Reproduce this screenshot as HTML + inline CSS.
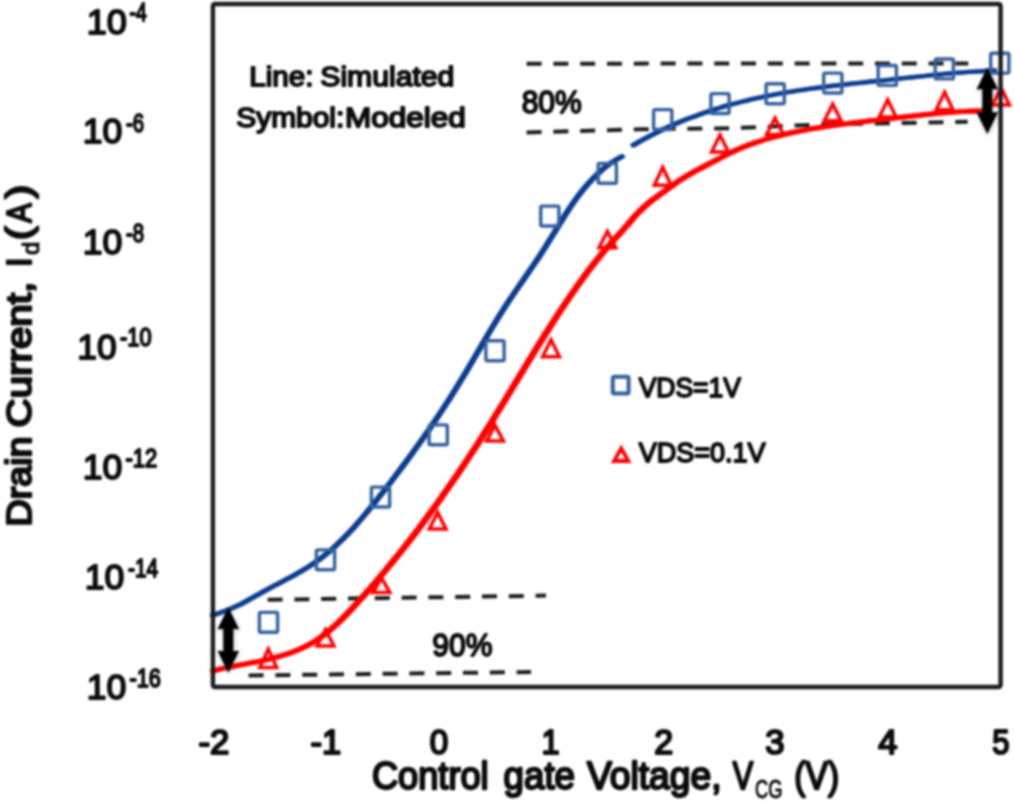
<!DOCTYPE html>
<html lang="en"><head><meta charset="utf-8"><title>Drain Current vs Control gate Voltage</title>
<style>html,body{margin:0;padding:0;background:#fff}body{width:1014px;height:801px;overflow:hidden}svg{display:block;filter:blur(0.85px)}
text{font-family:"Liberation Sans",Arial,sans-serif;font-weight:normal;fill:#0c0c0c;stroke:#0c0c0c;stroke-width:1.8px;stroke-linejoin:round;paint-order:stroke}
</style></head><body>
<svg width="1014" height="801" viewBox="0 0 1014 801">
<rect width="1014" height="801" fill="#fff"/>
<g id="chart">
<g stroke="#1c1c1c" stroke-width="4" fill="none" stroke-dasharray="15 11.8">
<path d="M526.6 63.7 L968.3 63.4"/>
<path d="M526.6 132.5 L640 129.3 L730 128.2 L830 124.2 L900 123 L967.7 121.8"/>
<path d="M267.6 599.8 L546 595.6"/>
<path d="M248.6 675.5 L531 672"/>
</g>
<g fill="none" stroke-linecap="butt" stroke-linejoin="round" transform="translate(-1.0 0)">
<path stroke="#0B3D8F" stroke-width="4.3" d="M211.1 615.8 C213.6 615.0 221.0 612.6 225.8 610.7 C230.6 608.9 235.3 607.0 239.8 604.7 C244.4 602.5 248.6 599.8 253.1 597.3 C257.5 594.8 262.0 592.3 266.5 589.8 C271.1 587.4 275.7 585.1 280.3 582.6 C284.8 580.2 289.5 577.8 294.0 575.3 C298.5 572.8 303.0 570.3 307.3 567.5 C311.7 564.8 315.9 561.9 320.0 558.9 C324.1 555.8 328.0 552.6 331.9 549.3 C335.7 545.9 339.4 542.4 343.0 538.8 C346.6 535.2 350.1 531.5 353.6 527.7 C357.0 523.9 360.4 520.0 363.7 516.0 C367.0 512.1 370.2 508.1 373.5 504.1 C376.7 500.0 379.9 496.0 383.1 491.9 C386.2 487.9 389.4 483.8 392.5 479.7 C395.6 475.6 398.7 471.5 401.8 467.4 C404.9 463.3 407.9 459.2 411.0 455.0 C414.0 450.9 417.0 446.7 420.0 442.5 C422.9 438.3 425.9 434.1 428.8 429.9 C431.7 425.7 434.6 421.4 437.4 417.2 C440.3 412.9 443.1 408.6 445.9 404.3 C448.7 400.0 451.5 395.7 454.2 391.3 C456.9 387.0 459.6 382.6 462.3 378.2 C464.9 373.8 467.6 369.3 470.2 364.9 C472.8 360.5 475.4 356.0 478.0 351.6 C480.6 347.1 483.2 342.7 485.8 338.3 C488.4 333.8 491.0 329.4 493.7 325.0 C496.3 320.6 499.0 316.3 501.8 311.9 C504.5 307.6 507.3 303.3 510.1 299.1 C513.0 294.8 515.9 290.6 518.8 286.4 C521.7 282.2 524.6 278.0 527.5 273.8 C530.4 269.6 533.3 265.4 536.2 261.1 C539.0 256.9 541.9 252.6 544.7 248.2 C547.4 243.9 550.1 239.4 552.8 235.0 C555.6 230.6 558.2 226.1 561.0 221.8 C563.7 217.4 566.5 213.0 569.3 208.7 C572.2 204.4 575.1 200.2 578.1 196.1 C581.2 192.0 584.3 188.0 587.7 184.2 C591.1 180.4 594.5 176.7 598.3 173.3 C602.0 169.9 605.9 166.6 610.1 163.6 C614.3 160.7 621.3 156.8 623.5 155.5"/>
<path stroke="#0B3D8F" stroke-width="4.3" d="M631.9 146.0 C633.5 145.1 638.1 142.4 641.2 140.7 C644.3 138.9 647.5 137.2 650.6 135.6 C653.8 134.0 657.0 132.4 660.2 130.8 C663.4 129.3 666.7 127.8 670.0 126.3 C673.2 124.9 676.5 123.5 679.8 122.1 C683.1 120.7 686.4 119.4 689.8 118.1 C693.1 116.8 696.5 115.6 699.8 114.4 C703.2 113.2 706.6 112.0 710.0 110.9 C713.4 109.8 716.8 108.7 720.2 107.7 C723.6 106.6 727.1 105.6 730.5 104.7 C734.0 103.7 737.4 102.8 740.9 102.0 C744.3 101.1 747.8 100.2 751.3 99.4 C754.7 98.6 758.2 97.9 761.7 97.1 C765.2 96.4 768.7 95.7 772.2 95.0 C775.7 94.3 779.2 93.7 782.7 93.1 C786.3 92.4 789.8 91.9 793.3 91.3 C796.8 90.7 800.4 90.2 803.9 89.7 C807.4 89.2 811.0 88.7 814.5 88.2 C818.0 87.7 821.6 87.3 825.1 86.8 C828.7 86.4 832.2 86.0 835.8 85.5 C839.3 85.1 842.9 84.7 846.5 84.3 C850.0 83.9 853.6 83.6 857.1 83.2 C860.7 82.8 864.2 82.4 867.8 82.0 C871.4 81.7 874.9 81.3 878.5 80.9 C882.0 80.6 885.6 80.2 889.2 79.8 C892.7 79.4 896.3 79.0 899.8 78.6 C903.4 78.3 906.9 77.9 910.5 77.5 C914.1 77.1 917.6 76.7 921.2 76.3 C924.7 76.0 928.3 75.6 931.8 75.2 C935.4 74.9 938.9 74.5 942.5 74.2 C946.1 73.9 949.6 73.5 953.2 73.2 C956.7 72.9 960.3 72.6 963.9 72.3 C967.4 72.1 971.0 71.8 974.6 71.6 C978.1 71.4 981.7 71.2 985.3 71.0 C988.8 70.8 994.2 70.6 996.0 70.5"/>
<path stroke="#FF0000" stroke-width="4.9" d="M211.3 671.3 C213.5 670.8 220.0 669.2 224.5 668.2 C229.0 667.2 233.6 666.4 238.2 665.4 C242.8 664.5 247.5 663.7 252.2 662.7 C256.9 661.8 261.6 660.8 266.3 659.8 C270.9 658.7 275.6 657.5 280.1 656.2 C284.7 654.9 289.2 653.5 293.5 651.8 C297.9 650.1 302.2 648.3 306.2 646.2 C310.3 644.1 314.3 641.7 318.1 639.2 C321.9 636.6 325.5 633.8 329.1 630.8 C332.6 627.9 336.1 624.7 339.4 621.5 C342.8 618.3 346.1 614.9 349.3 611.5 C352.5 608.1 355.7 604.7 358.8 601.2 C362.0 597.7 365.1 594.2 368.2 590.6 C371.3 587.1 374.4 583.6 377.4 580.0 C380.4 576.4 383.5 572.9 386.4 569.3 C389.4 565.7 392.4 562.0 395.3 558.4 C398.3 554.8 401.2 551.1 404.1 547.4 C407.0 543.8 409.9 540.1 412.7 536.4 C415.6 532.7 418.4 529.0 421.2 525.2 C424.0 521.5 426.8 517.8 429.5 514.0 C432.3 510.2 435.0 506.4 437.7 502.7 C440.5 498.9 443.2 495.1 445.8 491.2 C448.5 487.4 451.2 483.6 453.8 479.7 C456.5 475.9 459.1 472.0 461.7 468.1 C464.3 464.3 466.9 460.4 469.4 456.5 C472.0 452.6 474.5 448.7 477.1 444.8 C479.6 440.8 482.1 436.9 484.6 432.9 C487.1 429.0 489.6 425.0 492.1 421.1 C494.5 417.1 497.0 413.1 499.4 409.2 C501.9 405.2 504.3 401.2 506.8 397.2 C509.2 393.2 511.6 389.2 514.0 385.2 C516.5 381.2 518.9 377.2 521.3 373.2 C523.7 369.2 526.2 365.2 528.6 361.2 C531.0 357.2 533.5 353.3 535.9 349.3 C538.4 345.3 540.9 341.3 543.3 337.4 C545.8 333.4 548.3 329.5 550.8 325.6 C553.3 321.6 555.9 317.7 558.4 313.8 C561.0 309.9 563.6 306.0 566.2 302.2 C568.8 298.3 571.4 294.5 574.1 290.7 C576.7 286.8 579.4 283.0 582.2 279.3 C584.9 275.5 587.7 271.8 590.5 268.1 C593.3 264.4 596.2 260.7 599.2 257.1 C602.1 253.5 605.1 249.9 608.2 246.4 C611.2 242.8 614.4 239.4 617.6 235.9 C620.7 232.5 623.9 229.0 627.0 225.5 C630.1 222.0 632.9 218.3 636.0 214.9 C639.2 211.6 642.4 208.3 645.9 205.3 C649.3 202.2 653.1 199.5 656.9 196.7 C660.6 193.9 664.4 191.1 668.3 188.4 C672.1 185.7 675.9 182.9 679.8 180.3 C683.7 177.8 687.7 175.4 691.7 173.1 C695.7 170.8 699.9 168.7 704.0 166.5 C708.1 164.3 712.2 162.2 716.4 160.0 C720.5 157.9 724.7 155.6 728.9 153.6 C733.1 151.5 737.4 149.6 741.7 147.8 C746.0 146.0 750.3 144.4 754.7 142.9 C759.1 141.3 763.6 140.0 768.0 138.7 C772.5 137.4 777.0 136.2 781.5 135.1 C786.0 133.9 790.5 132.9 795.1 132.0 C799.7 131.0 804.2 130.1 808.8 129.3 C813.4 128.5 818.0 127.7 822.7 127.0 C827.3 126.3 831.9 125.6 836.5 125.0 C841.2 124.4 845.8 123.8 850.5 123.2 C855.1 122.6 859.8 122.1 864.4 121.6 C869.1 121.0 873.7 120.5 878.4 120.0 C883.0 119.4 887.7 118.9 892.3 118.4 C897.0 117.9 901.6 117.3 906.2 116.8 C910.9 116.3 915.5 115.7 920.1 115.2 C924.8 114.7 929.4 114.2 934.0 113.8 C938.6 113.4 943.3 112.9 947.9 112.6 C952.6 112.2 957.2 111.9 961.9 111.6 C966.6 111.4 971.2 111.2 975.9 111.0 C980.6 110.9 987.7 110.9 990.0 110.9"/>
</g>
<g fill="none" stroke-linecap="butt" stroke-linejoin="round" transform="translate(1.0 0)">
<path stroke="#0B3D8F" stroke-width="4.3" d="M211.1 615.8 C213.6 615.0 221.0 612.6 225.8 610.7 C230.6 608.9 235.3 607.0 239.8 604.7 C244.4 602.5 248.6 599.8 253.1 597.3 C257.5 594.8 262.0 592.3 266.5 589.8 C271.1 587.4 275.7 585.1 280.3 582.6 C284.8 580.2 289.5 577.8 294.0 575.3 C298.5 572.8 303.0 570.3 307.3 567.5 C311.7 564.8 315.9 561.9 320.0 558.9 C324.1 555.8 328.0 552.6 331.9 549.3 C335.7 545.9 339.4 542.4 343.0 538.8 C346.6 535.2 350.1 531.5 353.6 527.7 C357.0 523.9 360.4 520.0 363.7 516.0 C367.0 512.1 370.2 508.1 373.5 504.1 C376.7 500.0 379.9 496.0 383.1 491.9 C386.2 487.9 389.4 483.8 392.5 479.7 C395.6 475.6 398.7 471.5 401.8 467.4 C404.9 463.3 407.9 459.2 411.0 455.0 C414.0 450.9 417.0 446.7 420.0 442.5 C422.9 438.3 425.9 434.1 428.8 429.9 C431.7 425.7 434.6 421.4 437.4 417.2 C440.3 412.9 443.1 408.6 445.9 404.3 C448.7 400.0 451.5 395.7 454.2 391.3 C456.9 387.0 459.6 382.6 462.3 378.2 C464.9 373.8 467.6 369.3 470.2 364.9 C472.8 360.5 475.4 356.0 478.0 351.6 C480.6 347.1 483.2 342.7 485.8 338.3 C488.4 333.8 491.0 329.4 493.7 325.0 C496.3 320.6 499.0 316.3 501.8 311.9 C504.5 307.6 507.3 303.3 510.1 299.1 C513.0 294.8 515.9 290.6 518.8 286.4 C521.7 282.2 524.6 278.0 527.5 273.8 C530.4 269.6 533.3 265.4 536.2 261.1 C539.0 256.9 541.9 252.6 544.7 248.2 C547.4 243.9 550.1 239.4 552.8 235.0 C555.6 230.6 558.2 226.1 561.0 221.8 C563.7 217.4 566.5 213.0 569.3 208.7 C572.2 204.4 575.1 200.2 578.1 196.1 C581.2 192.0 584.3 188.0 587.7 184.2 C591.1 180.4 594.5 176.7 598.3 173.3 C602.0 169.9 605.9 166.6 610.1 163.6 C614.3 160.7 621.3 156.8 623.5 155.5"/>
<path stroke="#0B3D8F" stroke-width="4.3" d="M631.9 146.0 C633.5 145.1 638.1 142.4 641.2 140.7 C644.3 138.9 647.5 137.2 650.6 135.6 C653.8 134.0 657.0 132.4 660.2 130.8 C663.4 129.3 666.7 127.8 670.0 126.3 C673.2 124.9 676.5 123.5 679.8 122.1 C683.1 120.7 686.4 119.4 689.8 118.1 C693.1 116.8 696.5 115.6 699.8 114.4 C703.2 113.2 706.6 112.0 710.0 110.9 C713.4 109.8 716.8 108.7 720.2 107.7 C723.6 106.6 727.1 105.6 730.5 104.7 C734.0 103.7 737.4 102.8 740.9 102.0 C744.3 101.1 747.8 100.2 751.3 99.4 C754.7 98.6 758.2 97.9 761.7 97.1 C765.2 96.4 768.7 95.7 772.2 95.0 C775.7 94.3 779.2 93.7 782.7 93.1 C786.3 92.4 789.8 91.9 793.3 91.3 C796.8 90.7 800.4 90.2 803.9 89.7 C807.4 89.2 811.0 88.7 814.5 88.2 C818.0 87.7 821.6 87.3 825.1 86.8 C828.7 86.4 832.2 86.0 835.8 85.5 C839.3 85.1 842.9 84.7 846.5 84.3 C850.0 83.9 853.6 83.6 857.1 83.2 C860.7 82.8 864.2 82.4 867.8 82.0 C871.4 81.7 874.9 81.3 878.5 80.9 C882.0 80.6 885.6 80.2 889.2 79.8 C892.7 79.4 896.3 79.0 899.8 78.6 C903.4 78.3 906.9 77.9 910.5 77.5 C914.1 77.1 917.6 76.7 921.2 76.3 C924.7 76.0 928.3 75.6 931.8 75.2 C935.4 74.9 938.9 74.5 942.5 74.2 C946.1 73.9 949.6 73.5 953.2 73.2 C956.7 72.9 960.3 72.6 963.9 72.3 C967.4 72.1 971.0 71.8 974.6 71.6 C978.1 71.4 981.7 71.2 985.3 71.0 C988.8 70.8 994.2 70.6 996.0 70.5"/>
<path stroke="#FF0000" stroke-width="4.9" d="M211.3 671.3 C213.5 670.8 220.0 669.2 224.5 668.2 C229.0 667.2 233.6 666.4 238.2 665.4 C242.8 664.5 247.5 663.7 252.2 662.7 C256.9 661.8 261.6 660.8 266.3 659.8 C270.9 658.7 275.6 657.5 280.1 656.2 C284.7 654.9 289.2 653.5 293.5 651.8 C297.9 650.1 302.2 648.3 306.2 646.2 C310.3 644.1 314.3 641.7 318.1 639.2 C321.9 636.6 325.5 633.8 329.1 630.8 C332.6 627.9 336.1 624.7 339.4 621.5 C342.8 618.3 346.1 614.9 349.3 611.5 C352.5 608.1 355.7 604.7 358.8 601.2 C362.0 597.7 365.1 594.2 368.2 590.6 C371.3 587.1 374.4 583.6 377.4 580.0 C380.4 576.4 383.5 572.9 386.4 569.3 C389.4 565.7 392.4 562.0 395.3 558.4 C398.3 554.8 401.2 551.1 404.1 547.4 C407.0 543.8 409.9 540.1 412.7 536.4 C415.6 532.7 418.4 529.0 421.2 525.2 C424.0 521.5 426.8 517.8 429.5 514.0 C432.3 510.2 435.0 506.4 437.7 502.7 C440.5 498.9 443.2 495.1 445.8 491.2 C448.5 487.4 451.2 483.6 453.8 479.7 C456.5 475.9 459.1 472.0 461.7 468.1 C464.3 464.3 466.9 460.4 469.4 456.5 C472.0 452.6 474.5 448.7 477.1 444.8 C479.6 440.8 482.1 436.9 484.6 432.9 C487.1 429.0 489.6 425.0 492.1 421.1 C494.5 417.1 497.0 413.1 499.4 409.2 C501.9 405.2 504.3 401.2 506.8 397.2 C509.2 393.2 511.6 389.2 514.0 385.2 C516.5 381.2 518.9 377.2 521.3 373.2 C523.7 369.2 526.2 365.2 528.6 361.2 C531.0 357.2 533.5 353.3 535.9 349.3 C538.4 345.3 540.9 341.3 543.3 337.4 C545.8 333.4 548.3 329.5 550.8 325.6 C553.3 321.6 555.9 317.7 558.4 313.8 C561.0 309.9 563.6 306.0 566.2 302.2 C568.8 298.3 571.4 294.5 574.1 290.7 C576.7 286.8 579.4 283.0 582.2 279.3 C584.9 275.5 587.7 271.8 590.5 268.1 C593.3 264.4 596.2 260.7 599.2 257.1 C602.1 253.5 605.1 249.9 608.2 246.4 C611.2 242.8 614.4 239.4 617.6 235.9 C620.7 232.5 623.9 229.0 627.0 225.5 C630.1 222.0 632.9 218.3 636.0 214.9 C639.2 211.6 642.4 208.3 645.9 205.3 C649.3 202.2 653.1 199.5 656.9 196.7 C660.6 193.9 664.4 191.1 668.3 188.4 C672.1 185.7 675.9 182.9 679.8 180.3 C683.7 177.8 687.7 175.4 691.7 173.1 C695.7 170.8 699.9 168.7 704.0 166.5 C708.1 164.3 712.2 162.2 716.4 160.0 C720.5 157.9 724.7 155.6 728.9 153.6 C733.1 151.5 737.4 149.6 741.7 147.8 C746.0 146.0 750.3 144.4 754.7 142.9 C759.1 141.3 763.6 140.0 768.0 138.7 C772.5 137.4 777.0 136.2 781.5 135.1 C786.0 133.9 790.5 132.9 795.1 132.0 C799.7 131.0 804.2 130.1 808.8 129.3 C813.4 128.5 818.0 127.7 822.7 127.0 C827.3 126.3 831.9 125.6 836.5 125.0 C841.2 124.4 845.8 123.8 850.5 123.2 C855.1 122.6 859.8 122.1 864.4 121.6 C869.1 121.0 873.7 120.5 878.4 120.0 C883.0 119.4 887.7 118.9 892.3 118.4 C897.0 117.9 901.6 117.3 906.2 116.8 C910.9 116.3 915.5 115.7 920.1 115.2 C924.8 114.7 929.4 114.2 934.0 113.8 C938.6 113.4 943.3 112.9 947.9 112.6 C952.6 112.2 957.2 111.9 961.9 111.6 C966.6 111.4 971.2 111.2 975.9 111.0 C980.6 110.9 987.7 110.9 990.0 110.9"/>
</g>
<g fill="none" stroke="#33609F" stroke-width="3.4" stroke-linejoin="round">
<rect x="259.4" y="612.4" width="18.2" height="19.9" rx="1.5"/>
<rect x="316.4" y="549.9" width="18.2" height="19.9" rx="1.5"/>
<rect x="371.4" y="487.1" width="18.2" height="19.9" rx="1.5"/>
<rect x="429.1" y="424.9" width="18.2" height="19.9" rx="1.5"/>
<rect x="485.9" y="340.8" width="18.2" height="19.9" rx="1.5"/>
<rect x="540.7" y="206.1" width="18.2" height="19.9" rx="1.5"/>
<rect x="598.2" y="163.4" width="18.2" height="19.9" rx="1.5"/>
<rect x="653.6" y="109.6" width="18.2" height="19.9" rx="1.5"/>
<rect x="710.9" y="93.6" width="18.2" height="19.9" rx="1.5"/>
<rect x="766.1" y="83.8" width="18.2" height="19.9" rx="1.5"/>
<rect x="823.7" y="73.1" width="18.2" height="19.9" rx="1.5"/>
<rect x="878.2" y="65.5" width="18.2" height="19.9" rx="1.5"/>
<rect x="935.2" y="59.0" width="18.2" height="19.9" rx="1.5"/>
<rect x="990.7" y="53.2" width="18.2" height="19.9" rx="1.5"/>
</g>
<g fill="none" stroke="#FF0000" stroke-width="3.5" stroke-linejoin="miter">
<path d="M268.3 648.9 L276.7 667.5 L259.9 667.5 Z"/>
<path d="M325.5 629.5 L333.9 646.0 L317.1 646.0 Z"/>
<path d="M381.5 577.9 L389.9 592.6 L373.1 592.6 Z"/>
<path d="M437.6 512.4 L446.0 529.0 L429.2 529.0 Z"/>
<path d="M495.0 425.1 L503.4 441.1 L486.6 441.1 Z"/>
<path d="M551.0 339.7 L559.4 356.8 L542.6 356.8 Z"/>
<path d="M607.4 231.3 L615.8 247.8 L599.0 247.8 Z"/>
<path d="M662.7 167.3 L671.1 185.2 L654.3 185.2 Z"/>
<path d="M720.0 135.0 L728.4 151.9 L711.6 151.9 Z"/>
<path d="M775.0 118.0 L783.4 134.4 L766.6 134.4 Z"/>
<path d="M832.7 104.1 L841.1 120.7 L824.3 120.7 Z"/>
<path d="M887.7 99.8 L896.1 117.0 L879.3 117.0 Z"/>
<path d="M944.6 92.3 L953.0 109.8 L936.2 109.8 Z"/>
<path d="M1001.0 87.5 L1009.4 105.0 L992.6 105.0 Z"/>
</g>
<rect x="212.9" y="4.0" width="787.7" height="683.0" fill="none" stroke="#1c1c1c" stroke-width="4.4" rx="2"/>
<defs><filter id="sh" x="-50%" y="-20%" width="200%" height="140%"><feGaussianBlur stdDeviation="2.2"/></filter></defs>
<g transform="translate(0.5 1)" opacity="0.5" filter="url(#sh)">
<path fill="#666" d="M228.3 607.3 L239.1 629.3 L233.3 628.8 L233.3 651.2 L239.1 650.7 L228.3 672.7 L217.5 650.7 L223.3 651.2 L223.3 628.8 L217.5 629.3 Z"/>
<path fill="#666" d="M987.3 67.5 L998.1 89.5 L992.3 89.0 L992.3 112.5 L998.1 112.0 L987.3 134.0 L976.5 112.0 L982.3 112.5 L982.3 89.0 L976.5 89.5 Z"/>
</g>
<g>
<path fill="#000" d="M228.3 607.3 L239.1 629.3 L233.3 628.8 L233.3 651.2 L239.1 650.7 L228.3 672.7 L217.5 650.7 L223.3 651.2 L223.3 628.8 L217.5 629.3 Z"/>
<path fill="#000" d="M987.3 67.5 L998.1 89.5 L992.3 89.0 L992.3 112.5 L998.1 112.0 L987.3 134.0 L976.5 112.0 L982.3 112.5 L982.3 89.0 L976.5 89.5 Z"/>
</g>
</g>
<text><tspan x="86.70" y="33.60" font-size="34.80" textLength="40.16" lengthAdjust="spacingAndGlyphs">10</tspan><tspan x="129.59" y="20.85" font-size="25.60" textLength="17.12" lengthAdjust="spacingAndGlyphs">-4</tspan></text>
<text><tspan x="82.84" y="143.00" font-size="34.80" textLength="39.60" lengthAdjust="spacingAndGlyphs">10</tspan><tspan x="126.05" y="131.65" font-size="25.60" textLength="18.10" lengthAdjust="spacingAndGlyphs">-6</tspan></text>
<text><tspan x="82.84" y="253.50" font-size="34.80" textLength="39.60" lengthAdjust="spacingAndGlyphs">10</tspan><tspan x="126.05" y="242.15" font-size="25.60" textLength="18.09" lengthAdjust="spacingAndGlyphs">-8</tspan></text>
<text><tspan x="77.26" y="358.50" font-size="34.80" textLength="39.27" lengthAdjust="spacingAndGlyphs">10</tspan><tspan x="120.08" y="346.15" font-size="25.60" textLength="31.41" lengthAdjust="spacingAndGlyphs">-10</tspan></text>
<text><tspan x="82.84" y="478.50" font-size="34.80" textLength="39.60" lengthAdjust="spacingAndGlyphs">10</tspan><tspan x="125.48" y="466.65" font-size="25.60" textLength="31.68" lengthAdjust="spacingAndGlyphs">-12</tspan></text>
<text><tspan x="84.85" y="589.00" font-size="34.80" textLength="39.49" lengthAdjust="spacingAndGlyphs">10</tspan><tspan x="128.02" y="576.65" font-size="25.60" textLength="30.14" lengthAdjust="spacingAndGlyphs">-14</tspan></text>
<text><tspan x="86.74" y="699.00" font-size="34.80" textLength="39.60" lengthAdjust="spacingAndGlyphs">10</tspan><tspan x="129.48" y="687.15" font-size="25.60" textLength="31.42" lengthAdjust="spacingAndGlyphs">-16</tspan></text>
<text><tspan x="198.41" y="753.50" font-size="35.20" textLength="30.89" lengthAdjust="spacingAndGlyphs" style="stroke-width:2.2px">-2</tspan></text>
<text><tspan x="310.62" y="753.50" font-size="35.20" textLength="30.61" lengthAdjust="spacingAndGlyphs" style="stroke-width:2.2px">-1</tspan></text>
<text><tspan x="429.85" y="753.50" font-size="35.20" textLength="18.50" lengthAdjust="spacingAndGlyphs" style="stroke-width:2.2px">0</tspan></text>
<text><tspan x="541.58" y="753.50" font-size="35.20" textLength="18.06" lengthAdjust="spacingAndGlyphs" style="stroke-width:2.2px">1</tspan></text>
<text><tspan x="654.14" y="753.50" font-size="35.20" textLength="18.92" lengthAdjust="spacingAndGlyphs" style="stroke-width:2.2px">2</tspan></text>
<text><tspan x="765.32" y="753.50" font-size="35.20" textLength="19.35" lengthAdjust="spacingAndGlyphs" style="stroke-width:2.2px">3</tspan></text>
<text><tspan x="878.36" y="753.50" font-size="35.20" textLength="19.20" lengthAdjust="spacingAndGlyphs" style="stroke-width:2.2px">4</tspan></text>
<text><tspan x="992.21" y="753.50" font-size="35.20" textLength="17.24" lengthAdjust="spacingAndGlyphs" style="stroke-width:2.2px">5</tspan></text>
<text><tspan x="371.96" y="789.30" font-size="38.40" textLength="116.66" lengthAdjust="spacingAndGlyphs" style="stroke-width:2.3px">Control</tspan> <tspan x="503.56" y="789.30" font-size="38.40" textLength="71.47" lengthAdjust="spacingAndGlyphs" style="stroke-width:2.3px">gate</tspan> <tspan x="586.94" y="789.30" font-size="38.40" textLength="134.56" lengthAdjust="spacingAndGlyphs" style="stroke-width:2.3px">Voltage,</tspan> <tspan x="732.67" y="789.30" font-size="38.40" textLength="20.37" lengthAdjust="spacingAndGlyphs" style="stroke-width:2.3px">V</tspan><tspan x="755.12" y="797.80" font-size="25.00" textLength="27.39" lengthAdjust="spacingAndGlyphs" style="stroke-width:1.0px">CG</tspan> <tspan x="794.32" y="789.30" font-size="38.40" textLength="44.76" lengthAdjust="spacingAndGlyphs" style="stroke-width:2.3px">(V)</tspan></text>
<text><tspan x="249.32" y="85.90" font-size="27.50" textLength="64.13" lengthAdjust="spacingAndGlyphs">Line:</tspan> <tspan x="320.28" y="85.90" font-size="27.50" textLength="134.11" lengthAdjust="spacingAndGlyphs">Simulated</tspan></text>
<text><tspan x="236.29" y="127.00" font-size="27.50" textLength="107.99" lengthAdjust="spacingAndGlyphs">Symbol:</tspan><tspan x="345.07" y="127.00" font-size="27.50" textLength="120.71" lengthAdjust="spacingAndGlyphs">Modeled</tspan></text>
<text><tspan x="521.65" y="113.20" font-size="31.50" textLength="60.07" lengthAdjust="spacingAndGlyphs">80%</tspan></text>
<text><tspan x="432.34" y="655.80" font-size="31.50" textLength="60.18" lengthAdjust="spacingAndGlyphs">90%</tspan></text>
<text><tspan x="638.63" y="396.50" font-size="28.00" textLength="102.23" lengthAdjust="spacingAndGlyphs">VDS=1V</tspan></text>
<text><tspan x="638.63" y="461.60" font-size="28.00" textLength="126.94" lengthAdjust="spacingAndGlyphs">VDS=0.1V</tspan></text>
<g transform="translate(30.6 525) rotate(-90)">
<text><tspan x="-1.59" y="0.00" font-size="34.60" textLength="90.04" lengthAdjust="spacingAndGlyphs" style="stroke-width:2.3px">Drain</tspan> <tspan x="97.55" y="0.00" font-size="34.60" textLength="145.57" lengthAdjust="spacingAndGlyphs" style="stroke-width:2.3px">Current,</tspan> <tspan x="257.93" y="0.00" font-size="34.60" textLength="9.53" lengthAdjust="spacingAndGlyphs" style="stroke-width:2.3px">I</tspan><tspan x="270.04" y="8.20" font-size="24.00" textLength="13.36" lengthAdjust="spacingAndGlyphs" style="stroke-width:1.2px">d</tspan><tspan x="284.97" y="0.00" font-size="34.60" textLength="13.56" lengthAdjust="spacingAndGlyphs" style="stroke-width:2.3px">(</tspan><tspan x="302.34" y="0.00" font-size="34.60" textLength="19.41" lengthAdjust="spacingAndGlyphs" style="stroke-width:2.3px">A</tspan><tspan x="326.56" y="0.00" font-size="34.60" textLength="13.56" lengthAdjust="spacingAndGlyphs" style="stroke-width:2.3px">)</tspan></text>
</g>
<rect x="612.8" y="376.8" width="15.8" height="16.8" rx="1.5" fill="none" stroke="#33609F" stroke-width="4"/>
<path d="M621.2 448.3 L628.3 461 L614.1 461 Z" fill="none" stroke="#FF0000" stroke-width="3.8" stroke-linejoin="miter"/>
</svg></body></html>
